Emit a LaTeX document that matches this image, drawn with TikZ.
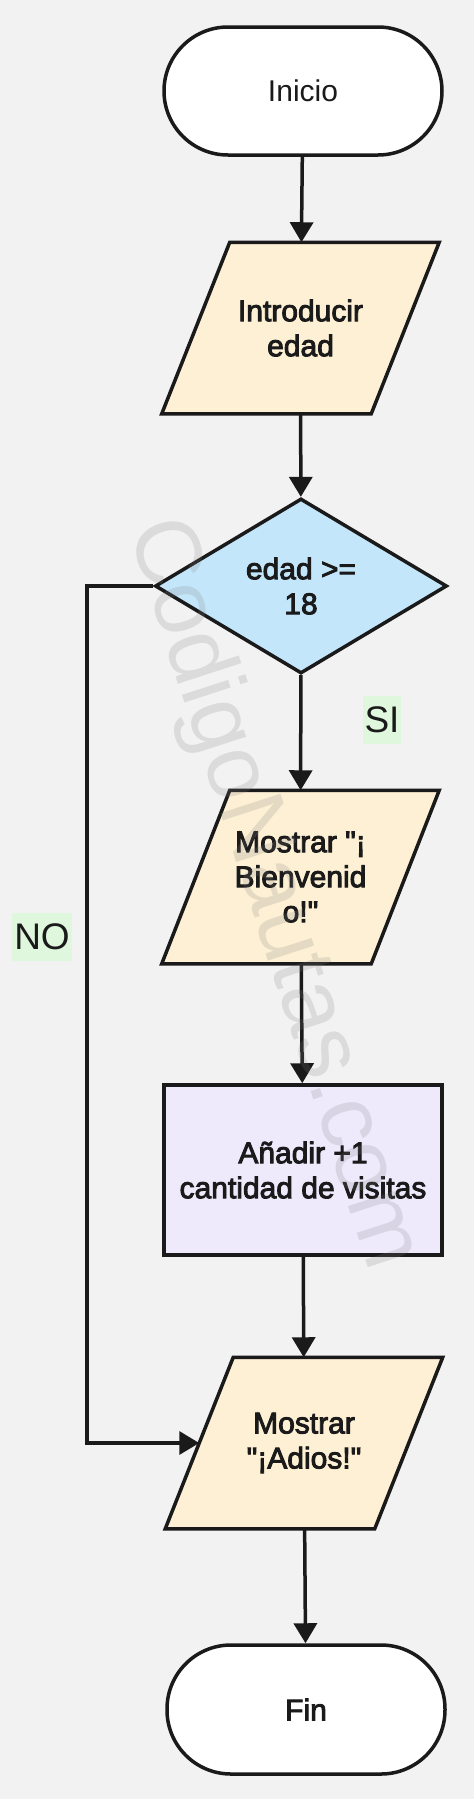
\documentclass[tikz,border=0pt]{standalone}
\usepackage{fontspec}
\setmainfont{Liberation Sans}
\newfontfamily\medfont[FakeBold=3]{Liberation Sans}
\usetikzlibrary{arrows.meta,shapes.geometric}
\definecolor{bgcol}{HTML}{F2F2F2}
\definecolor{linecol}{HTML}{1A1A1A}
\definecolor{iocol}{HTML}{FDF0D4}
\definecolor{askcol}{HTML}{C4E6FB}
\definecolor{jobcol}{HTML}{EEEAFC}
\definecolor{tagcol}{HTML}{DFF7DD}
\pgfdeclarelayer{back}
\pgfsetlayers{back,main}

\begin{document}
\begin{tikzpicture}
  [x=1pt,y=1pt,
   >={Triangle[length=20pt,width=23pt]},
   flow/.style={draw=linecol,line width=3.5pt,text=linecol,align=center,
     font=\medfont\fontsize{30}{35}\selectfont},
   term/.style={flow,rectangle,rounded corners=64pt,fill=white,
     minimum width=278pt,minimum height=128pt},
   io/.style={flow,draw=none,rectangle,minimum width=206pt,minimum height=168pt},
   iobox/.style={draw=linecol,line width=3.5pt,fill=iocol,line join=miter},
   ask/.style={flow,diamond,aspect=1.67,inner sep=0pt,fill=askcol,
     minimum width=292pt,minimum height=175pt},
   job/.style={flow,rectangle,fill=jobcol,minimum width=278pt,minimum height=170pt},
   tag/.style={fill=tagcol,text=linecol,inner xsep=2pt,minimum height=48pt,
     font=\fontsize{37}{40}\selectfont},
   link/.style={draw=linecol,line width=3.5pt,->},
   wmtext/.style={text=gray,opacity=0.2,rotate=-72,font=\fontsize{92}{92}\selectfont}
  ]

  % blocks
  \node[term,font=\fontsize{30}{35}\selectfont] (start) at (303,-91) {Inicio};
  \node[io] (intro) at (300.5,-328) {Introducir\\edad};
  \node[ask] (cond) at (301,-586) {edad >=\\18};
  \node[io,minimum height=170pt] (hi) at (300.5,-877) {Mostrar "¡\\Bienvenid\\o!"};
  \node[job] (add) at (303,-1170) {Añadir +1\\cantidad de visitas};
  \node[io] (bye) at (304,-1443) {Mostrar\\"¡Adios!"};
  \node[term,minimum height=129pt] (end) at (306,-1709.5) {Fin};

  % parallelograms behind the io texts
  \begin{pgfonlayer}{back}
    \fill[bgcol] (0,0) rectangle (474,-1799);
    \foreach \n in {intro,hi,bye}
      \draw[iobox] ([xshift=-34pt]\n.south west) -- ([xshift=-34pt]\n.south east)
        -- ([xshift=34pt]\n.north east) -- ([xshift=34pt]\n.north west) -- cycle;
  \end{pgfonlayer}

  % arrows
  \draw[link] (start) -- (intro);
  \draw[link] (intro) -- (cond);
  \draw[link] (cond) -- (hi);
  \draw[link] (hi) -- (add);
  \draw[link] (add) -- (bye);
  \draw[link] (bye) -- (end);
  \coordinate (nocorner) at (87,-586);
  \draw[link] (cond.west) -- (nocorner) |- (bye.west);

  % labels
  \node[tag] (yes) at (382,-720) {SI};
  \node[tag] (no) at (42,-937) {NO};

  \node[wmtext] (wm) at (272,-894) {CodigoNautas.com};

\end{tikzpicture}
\end{document}
